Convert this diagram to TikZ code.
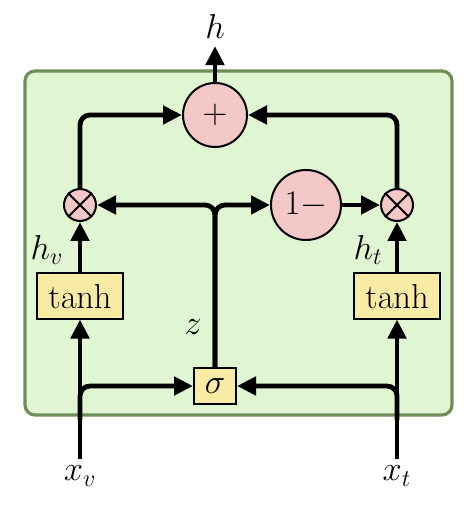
\documentclass[tikz,border=0pt]{standalone}
\usetikzlibrary{arrows.meta}
\definecolor{fondo}{HTML}{E0F5D2}
\definecolor{borde}{HTML}{6F8F59}
\definecolor{rosa}{HTML}{F5C8C8}
\definecolor{amarillo}{HTML}{F7EBA5}
\begin{document}
\begin{tikzpicture}[x=0.5pt,y=-0.5pt,font=\fontsize{17}{20}\selectfont,
    flecha/.style={-{Triangle[length=9.5pt,width=9pt]},line width=2.4pt,rounded corners=5pt},
    caja/.style={draw,line width=1pt,fill=amarillo,inner sep=1pt},
    op/.style={circle,draw,line width=1pt,fill=rosa,inner sep=0pt}]
        \useasboundingbox (0,0) rectangle (474,506);
        % Celda
        \draw[borde,fill=fondo,line width=1.6pt,rounded corners=5pt] (25,71) rectangle (452,415);

        % Operaciones
        \node[op,minimum size=32pt] (suma) at (215,115) {$+$};
        \node[op,minimum size=35pt] (uno) at (306,205) {$1-$};
        \node[op,minimum size=16pt] (mv) at (80,205) {};
        \node[op,minimum size=16pt] (mt) at (397,205) {};
        \draw[line width=1pt] (mv.45) -- (mv.225) (mv.135) -- (mv.315);
        \draw[line width=1pt] (mt.45) -- (mt.225) (mt.135) -- (mt.315);

        % Capas
        \node[caja,minimum width=43pt,minimum height=22.5pt] (tv) at (80,296) {$\mathrm{tanh}$};
        \node[caja,minimum width=43pt,minimum height=22.5pt] (tt) at (397,296) {$\mathrm{tanh}$};
        \node[caja,minimum width=21pt,minimum height=18pt] (sig) at (215,386) {$\sigma$};

        % Etiquetas
        \node (h) at (215,27) {$h$};
        \node (xv) at (80,476) {$x_v$};
        \node (xt) at (397,476) {$x_t$};
        \node (hv) at (47,250) {$h_v$};
        \node (ht) at (368,250) {$h_t$};
        \node (z) at (193,327) {$z$};
        \coordinate (cruce) at (215,205);

        % Conexiones
        \draw[flecha] (xv.north) -- (tv.south);
        \draw[flecha] (xt.north) -- (tt.south);
        \draw[flecha] (80,420) |- (sig.west);
        \draw[flecha] (397,420) |- (sig.east);
        \draw[flecha] (tv.north) -- (mv.south);
        \draw[flecha] (tt.north) -- (mt.south);
        \draw[flecha] (sig.north) -- (cruce) -- (mv.east);
        \draw[flecha] (sig.north) -- (cruce) -- (uno.west);
        \draw[flecha] (uno.east) -- (mt.west);
        \draw[flecha] (mv.north) |- (suma.west);
        \draw[flecha] (mt.north) |- (suma.east);
        \draw[flecha] (suma.north) -- (h.south);
    \end{tikzpicture}
\end{document}
